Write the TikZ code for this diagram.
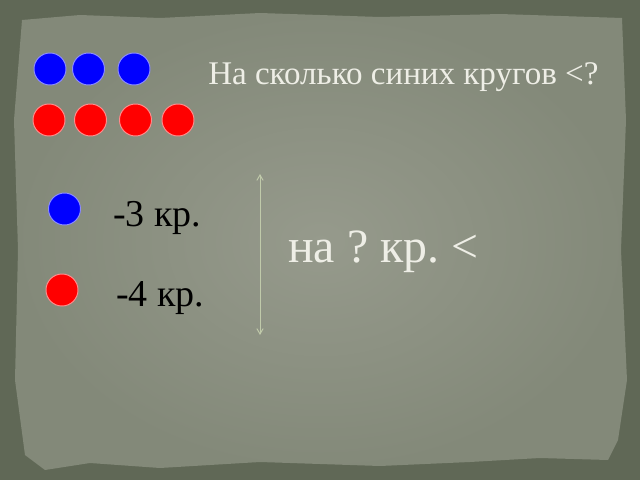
\documentclass[tikz,border=0pt]{standalone}
\usepackage{fontspec}
\setmainfont{Liberation Serif}
\usepackage{tikz}
\usetikzlibrary{arrows}
\definecolor{frame}{RGB}{96,104,86}
\definecolor{paperin}{RGB}{150,154,140}
\definecolor{paperout}{RGB}{131,137,121}
\definecolor{chalk}{RGB}{238,238,230}
\definecolor{stem}{RGB}{192,202,170}
\frenchspacing
\tikzset{
  krug/.style = {circle, inner sep=0pt, minimum size=0.8cm, line width=0.7pt},
  krug_s/.style = {krug, fill=blue, draw=blue!45!white},% krug sinij
  krug_k/.style = {krug, fill=red, draw=red!45!white},% krug krasnyj
  txt/.style = {inner sep=0pt, anchor=base west},
  txt_z/.style = {txt, font=\fontsize{23.5pt}{28pt}\selectfont, chalk},% zagolovok
  txt_c/.style = {txt, font=\fontsize{27pt}{32pt}\selectfont, black},
  txt_b/.style = {txt, font=\fontsize{34pt}{40pt}\selectfont, chalk}
}

\begin{document}
\begin{tikzpicture} [x=0.025cm, y=-0.025cm]
	\useasboundingbox (0,0) rectangle (640,480);
	\fill [frame] (0,0) rectangle (640,480);
	% torn paper sheet
	\shade [inner color=paperin, outer color=paperout]
	  (22,20) -- (80,15) -- (160,18) -- (260,13) -- (380,17) -- (500,14) -- (622,18)
	  -- (626,120) -- (621,250) -- (627,380) -- (618,440) -- (608,460)
	  -- (540,458) -- (470,462) -- (380,466) -- (260,462) -- (160,468) -- (90,463)
	  -- (45,470) -- (25,455) -- (15,380) -- (18,250) -- (14,120) -- cycle;
	\node [txt_z] (titul) at (208,84) {На сколько синих кругов <?};
	\node [krug_s] (s1) at (50,69) {};
	\node [krug_s] (s2) at (88.5,69) {};
	\node [krug_s] (s3) at (134,69) {};
	\node [krug_k] (k1) at (49,120) {};
	\node [krug_k] (k2) at (90.5,120) {};
	\node [krug_k] (k3) at (135.5,120) {};
	\node [krug_k] (k4) at (178,120) {};
	\node [krug_s] (s0) at (64.5,209) {};
	\node [krug_k] (k0) at (62,290) {};
	\node [txt_c] (minus3) at (113,226) {-3 кр.};
	\node [txt_c] (minus4) at (116,306) {-4 кр.};
	\node [txt_b] (otvet) at (288,262) {на ? кр. <};
	\coordinate (verh) at (260,174);
	\coordinate (niz) at (260,335);
	\draw [stem, line width=0.7pt, <->, >=angle 60] (verh) -- (niz);
\end{tikzpicture}
\end{document}
